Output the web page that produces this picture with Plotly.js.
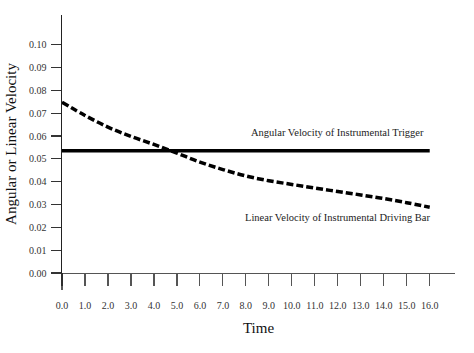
<!DOCTYPE html>
<html><head><meta charset="utf-8">
<script src="https://cdn.plot.ly/plotly-3.0.1.min.js"></script>
<style>html,body{margin:0;padding:0;background:#fff;}#chart{width:474px;height:353px;}</style>
</head><body><div id="chart"></div>
<script>
const time = [0,1,2,3,4,5,6,7,8,9,10,11,12,13,14,15,16];
const linearVelocity = [0.0748,0.0690,0.0639,0.0598,0.0563,0.0525,0.0486,0.0453,0.0425,0.0404,0.0388,0.0372,0.0357,0.0342,0.0326,0.0308,0.0288];
const triggerTime = [0,16];
const angularVelocity = [0.0535,0.0535];
const yTicks = [0,0.01,0.02,0.03,0.04,0.05,0.06,0.07,0.08,0.09,0.10];
const xTicks = [0,1,2,3,4,5,6,7,8,9,10,11,12,13,14,15,16];
const labels = ["Angular Velocity of Instrumental Trigger","Linear Velocity of Instrumental Driving Bar"];
const labelPos = [[12.0,0.0614],[12.0,0.0241]];

const serif = "Liberation Serif, Times New Roman, serif";
const traces = [
  {x: triggerTime, y: angularVelocity, mode:'lines', line:{color:'#000', width:3.5}, hoverinfo:'skip'},
  {x: time, y: linearVelocity, mode:'lines', line:{color:'#000', width:3.5, dash:'7px,3px', shape:'spline', smoothing:1}, hoverinfo:'skip'}
];
const layout = {
  width:474, height:353,
  margin:{l:62, r:19, t:15, b:80},
  paper_bgcolor:'#fff', plot_bgcolor:'#fff',
  showlegend:false,
  font:{family:serif, color:'#333'},
  xaxis:{range:[0,17.1], tickvals:xTicks, ticktext:xTicks.map(v=>v.toFixed(1)),
    showgrid:false, zeroline:false, showline:true, linecolor:'#555', linewidth:1.2,
    ticks:'outside', ticklen:12, tickcolor:'#555', tickwidth:1.2, ticklabelstandoff:11,
    tickfont:{size:10, color:'#333', family:serif},
    title:{text:'Time', font:{size:15, color:'#111', family:serif}, standoff:12}},
  yaxis:{range:[0,0.113], tickvals:yTicks, ticktext:yTicks.map(v=>v.toFixed(2)),
    showgrid:false, zeroline:false, showline:true, linecolor:'#222', linewidth:1.5,
    ticks:'outside', ticklen:10, tickcolor:'#333', tickwidth:1.2, ticklabelstandoff:2,
    tickfont:{size:10, color:'#333', family:serif},
    title:{text:'Angular or Linear Velocity', font:{size:15, color:'#111', family:serif}, standoff:9}},
  shapes:[{type:'line', xref:'paper', yref:'paper', x0:0, x1:0, y0:0, y1:-17/258, line:{color:'#222', width:1.5}}],
  annotations: labels.map((t,i)=>({x:labelPos[i][0], y:labelPos[i][1], text:t, showarrow:false,
    font:{size:10.5, color:'#222', family:serif}, xanchor:'center', yanchor:'middle'}))
};
Plotly.newPlot('chart', traces, layout, {staticPlot:true, displayModeBar:false});
</script></body></html>
